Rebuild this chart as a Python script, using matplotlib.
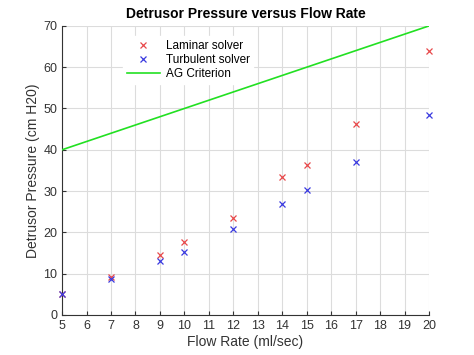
import matplotlib
matplotlib.use("Agg")
import matplotlib.pyplot as plt
import numpy as np

plt.rcParams['font.family'] = ['Liberation Sans', 'DejaVu Sans']

# Data
flow = [5, 7, 9, 10, 12, 14, 15, 17, 20]
laminar = [5.0, 9.2, 14.5, 17.7, 23.5, 33.4, 36.2, 46.3, 64.0]
turbulent = [5.0, 8.6, 13.0, 15.3, 20.7, 26.9, 30.2, 37.0, 48.5]
ag_flow = [5, 20]
ag_pressure = [40, 70]

fig = plt.figure(figsize=(4.74, 3.55), dpi=100)
ax = fig.add_axes([0.131, 0.113, 0.774, 0.814])

ax.plot(flow, laminar, 'x', color='#e8484a', markersize=5, mew=0.9,
        label='Laminar solver', clip_on=False, zorder=3)
ax.plot(flow, turbulent, 'x', color='#3a3ae0', markersize=5, mew=0.9,
        label='Turbulent solver', clip_on=False, zorder=3)
ax.plot(ag_flow, ag_pressure, '-', color='#22e022', lw=1.2, label='AG Criterion', zorder=6)

ax.set_xlim(5, 20)
ax.set_ylim(0, 70)
ax.set_xticks(range(5, 21))
ax.set_yticks(range(0, 71, 10))
ax.grid(True, color='#dcdcdc', lw=0.8)
ax.set_axisbelow(True)
for s in ['top', 'right']:
    ax.spines[s].set_visible(False)
for s in ['left', 'bottom']:
    ax.spines[s].set_color('#333333')
    ax.spines[s].set_linewidth(0.8)
ax.tick_params(labelsize=9, colors='#333333', direction='in', length=3)

ax.set_xlabel('Flow Rate (ml/sec)', fontsize=10, color='#333333', labelpad=2)
ax.set_ylabel('Detrusor Pressure (cm H20)', fontsize=10, color='#333333', labelpad=2)
ax.set_title('Detrusor Pressure versus Flow Rate', fontsize=10, fontweight='bold', pad=6)

leg = ax.legend(loc='upper left', bbox_to_anchor=(0.15, 0.985), frameon=True,
                fontsize=8.5, handlelength=2.8, borderpad=0.3, labelspacing=0.2,
                handletextpad=0.5, fancybox=False)
leg.get_frame().set_edgecolor('white')
leg.get_frame().set_alpha(1)

fig.savefig('out.png', dpi=100)
